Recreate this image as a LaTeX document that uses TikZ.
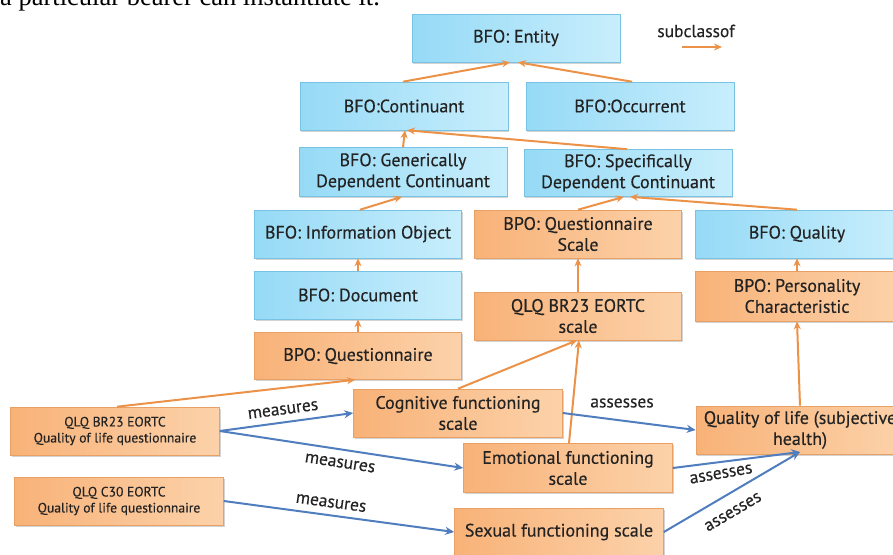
\documentclass[tikz,border=0pt]{standalone}
\usepackage{fontspec}
\setmainfont{PT Sans}[BoldFont=PT Sans, BoldFeatures={FakeBold=0.35}]
\newfontfamily\serifhead{Liberation Serif}
\usetikzlibrary{arrows.meta,shadows}
\definecolor{bluel}{RGB}{150,218,246}
\definecolor{bluer}{RGB}{200,238,252}
\definecolor{blueb}{RGB}{120,195,228}
\definecolor{orl}{RGB}{248,178,120}
\definecolor{orr}{RGB}{252,210,170}
\definecolor{orb}{RGB}{232,160,100}
\definecolor{subc}{RGB}{236,146,72}
\definecolor{rel}{RGB}{80,125,190}
\definecolor{txt}{RGB}{35,35,35}
\tikzset{
  box/.style={rectangle, minimum width=208pt, minimum height=48pt, inner sep=2pt,
    align=center, font=\bfseries\fontsize{18}{21}\selectfont, text=txt, line width=0.6pt,
    drop shadow={shadow xshift=1.2pt, shadow yshift=-1.5pt, opacity=0.35}},
  bluebox/.style={box, draw=blueb, left color=bluel, right color=bluer},
  orbox/.style={box, draw=orb, left color=orl, right color=orr},
  smallbox/.style={orbox, font=\bfseries\fontsize{13.6}{16}\selectfont},
  isa/.style={draw=subc, line width=2pt, -{Stealth[length=8pt,width=7pt]}},
  relarr/.style={draw=rel, line width=2pt, -{Stealth[length=9pt,width=8pt]}},
  lbl/.style={font=\bfseries\fontsize{17.5}{19}\selectfont, text=txt, inner sep=0pt}
}
\begin{document}
\begin{tikzpicture}[x=1pt,y=-1pt]
\clip (0,0) rectangle (893,554);
\node[anchor=base west, inner sep=0pt, font=\serifhead\fontsize{26.5}{28}\selectfont] (head) at (0,5.5) {a particular bearer can instantiate it.};

\node[bluebox] (entity) at (516,38) {BFO: Entity};
\node[bluebox] (cont) at (404,106) {BFO:Continuant};
\node[bluebox] (occ) at (630,106) {BFO:Occurrent};
\node[bluebox, minimum height=49pt] (gdc) at (403,172) {BFO: Generically\\Dependent Continuant};
\node[bluebox, minimum height=47pt] (sdc) at (628,173) {BFO: Specifically\\Dependent Continuant};
\node[bluebox, minimum width=207pt] (info) at (358,234) {BFO: Information Object};
\node[orbox, minimum width=207pt] (qscale) at (578,234) {BPO: Questionnaire\\Scale};
\node[bluebox, minimum width=204pt] (quality) at (797,234) {BFO: Quality};
\node[bluebox, minimum width=207pt] (doc) at (358,295) {BFO: Document};
\node[orbox, minimum width=207pt] (br23s) at (578,316) {QLQ BR23 EORTC\\scale};
\node[orbox, minimum width=204pt, minimum height=50pt] (pers) at (797,296) {BPO: Personality\\Characteristic};
\node[orbox, minimum width=207pt, minimum height=47pt] (bpoq) at (358,356) {BPO: Questionnaire};
\node[smallbox, minimum width=209pt] (qlqbr) at (115,431) {QLQ BR23 EORTC\\Quality of life questionnaire};
\node[smallbox, minimum width=209pt] (qlqc) at (119,501) {QLQ C30 EORTC\\Quality of life questionnaire};
\node[orbox, minimum width=209pt] (cog) at (458,413) {Cognitive functioning\\scale};
\node[orbox, minimum width=209pt, minimum height=49pt] (emo) at (568,468) {Emotional functioning\\scale};
\node[orbox, minimum width=209pt] (sex) at (559,532) {Sexual functioning scale};
\node[orbox, minimum width=208pt] (qol) at (800,430) {Quality of life (subjective\\health)};

% legend
\node[lbl] (legend) at (696,31) {subclassof};
\coordinate (lga) at (682,47);
\coordinate (lgb) at (722,47);
\draw[isa] (lga) -- (lgb);

% subclass arrows
\draw[isa] ([xshift=-1pt]cont.north) -- ([xshift=-6pt]entity.south);
\draw[isa] ([xshift=2pt]occ.north) -- ([xshift=2pt]entity.south);
\draw[isa] (gdc.north) -- ([xshift=1pt]cont.south);
\draw[isa] ([xshift=-1pt]sdc.north) -- ([xshift=3pt]cont.south);
\draw[isa] ([xshift=2pt]info.north) -- ([xshift=-1pt]gdc.south);
\draw[isa] (qscale.north) -- ([xshift=-4pt]sdc.south);
\draw[isa] (quality.north) -- ([xshift=2pt]sdc.south);
\draw[isa] (doc.north) -- (info.south);
\draw[isa] (br23s.north) -- (qscale.south);
\draw[isa] (pers.north) -- (quality.south);
\draw[isa] (qol.north) -- (pers.south);
\draw[isa] (bpoq.north) -- (doc.south);
\draw[isa] ([xshift=2pt]qlqbr.north) -- ([xshift=-3pt]bpoq.south);
\draw[isa] (cog.north) -- ([xshift=-1pt]br23s.south);
\draw[isa] ([xshift=1pt]emo.north) -- ([xshift=1pt]br23s.south);

% relations
\coordinate (qolin) at (800,452);
\draw[relarr] (qlqbr.east) -- (cog.west);
\draw[relarr] (qlqbr.east) -- (emo.west);
\draw[relarr] (qlqc.east) -- (sex.west);
\draw[relarr] (cog.east) -- (qol.west);
\draw[relarr] (emo.east) -- (qolin);
\draw[relarr] (sex.east) -- (qolin);

\node[lbl, rotate=7.6] (m1) at (283,410) {measures};
\node[lbl, rotate=-8.6] (m2) at (340,463) {measures};
\node[lbl, rotate=-7.7] (m3) at (331,503) {measures};
\node[lbl] (a1) at (622,403) {assesses};
\node[lbl, rotate=10] (a2) at (721,474) {assesses};
\node[lbl, rotate=30.5] (a3) at (733,512) {assesses};
\end{tikzpicture}
\end{document}
